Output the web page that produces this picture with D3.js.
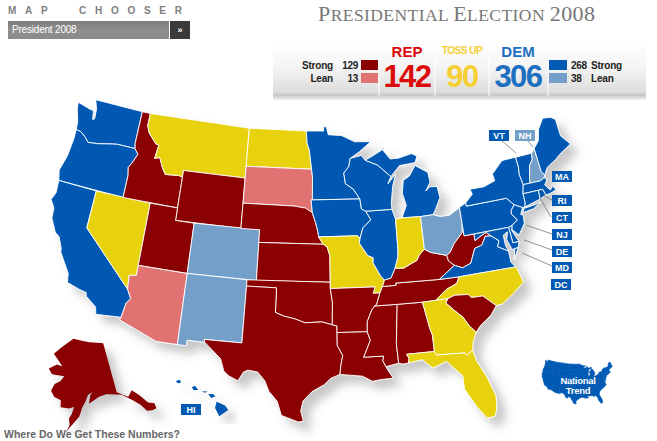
<!DOCTYPE html>
<html>
<head>
<meta charset="utf-8">
<script src="https://d3js.org/d3.v7.min.js"></script>
<style>
  html, body { margin: 0; padding: 0; background: #fff; }
  svg { display: block; font-family: "Liberation Sans", Arial, sans-serif; }
</style>
</head>
<body>
<svg id="map" width="657" height="441"></svg>
<script>
// who is where
var strongRep = ["AK","ID","UT","WY","NE","KS","OK","TX","AR","LA","MS","AL","TN","KY","WV","SC"];
var leanRep = ["AZ","SD"];
var tossUp = ["MT","ND","NV","MO","IN","NC","GA","FL"];
var leanDem = ["CO","NM","OH","NH"];
var strongDem = ["WA","OR","CA","MN","WI","IA","IL","MI","PA","NY","VT","ME","MA","RI","CT","NJ","DE","MD","VA","HI"];

// scoreboard numbers
var repLegend = [["Strong", 129], ["Lean", 13]];
var demLegend = [["Strong", 268], ["Lean", 38]];
var totalLabels = ["REP", "TOSS UP", "DEM"];
var totalValues = [142, 90, 306];

var calloutNames = ["VT","NH","MA","RI","CT","NJ","DE","MD","DC","HI"];

// state outlines in lon/lat, one list of rings per state
var shapes = {
  WA: [[[-124.7,48.4],[-123.2,48.15],[-122.7,48.1],[-122.5,47.4],[-122.3,47.5],[-122.4,48.3],[-122.8,49],[-117.03,49],[-117.04,46.4],[-116.92,45.99],[-118.98,46],[-119.6,45.92],[-121.2,45.65],[-122.3,45.55],[-122.8,45.9],[-123.4,46.2],[-124,46.27],[-124.1,46.9],[-124.6,47.9]]],
  OR: [[[-124,46.27],[-123.4,46.2],[-122.8,45.9],[-122.3,45.55],[-121.2,45.65],[-119.6,45.92],[-118.98,46],[-116.92,45.99],[-116.46,45.6],[-116.85,44.9],[-117.2,44.4],[-117.03,43.8],[-117.03,42],[-124.2,42],[-124.5,42.8],[-124.1,44],[-123.95,45.5]]],
  CA: [[[-124.2,42],[-120,42],[-120,39],[-114.63,35],[-114.14,34.3],[-114.5,33.9],[-114.72,32.72],[-117.12,32.53],[-117.3,33.1],[-118.4,33.75],[-118.5,34.03],[-119.2,34.15],[-120.5,34.45],[-120.65,35.15],[-121.9,36.6],[-122,36.95],[-122.5,37.75],[-123,38],[-123.75,39],[-123.85,39.8],[-124.4,40.4],[-124.1,41]]],
  NV: [[[-120,42],[-114.04,42],[-114.04,36.2],[-114.74,36.1],[-114.63,35],[-120,39]]],
  ID: [[[-117.03,49],[-116.05,49],[-116.05,48],[-115.7,47.45],[-114.7,46.7],[-114.33,46.65],[-114.5,45.55],[-113.95,45.7],[-113.45,44.95],[-113,44.45],[-111.5,44.55],[-111.05,44.48],[-111.05,42],[-117.03,42],[-117.03,43.8],[-117.2,44.4],[-116.85,44.9],[-116.46,45.6],[-116.92,45.99],[-117.04,46.4]]],
  MT: [[[-116.05,49],[-104.05,49],[-104.05,45],[-111.05,45],[-111.05,44.48],[-111.5,44.55],[-113,44.45],[-113.45,44.95],[-113.95,45.7],[-114.5,45.55],[-114.33,46.65],[-114.7,46.7],[-115.7,47.45],[-116.05,48]]],
  WY: [[[-111.05,45],[-104.05,45],[-104.05,41],[-111.05,41]]],
  UT: [[[-114.04,42],[-111.05,42],[-111.05,41],[-109.05,41],[-109.05,37],[-114.04,37]]],
  CO: [[[-109.05,41],[-102.05,41],[-102.05,37],[-109.05,37]]],
  AZ: [[[-114.04,37],[-109.05,37],[-109.05,31.33],[-111.07,31.33],[-114.81,32.5],[-114.72,32.72],[-114.5,33.9],[-114.14,34.3],[-114.63,35],[-114.74,36.1],[-114.04,36.2]]],
  NM: [[[-109.05,37],[-103,37],[-103.04,32],[-106.62,32],[-106.53,31.78],[-108.2,31.78],[-108.2,31.33],[-109.05,31.33]]],
  ND: [[[-104.05,49],[-97.23,49],[-97.1,48],[-96.85,47.5],[-96.56,45.94],[-104.05,45.94]]],
  SD: [[[-104.05,45.94],[-96.56,45.94],[-96.45,45.3],[-96.45,43.5],[-96.6,43.5],[-96.45,42.49],[-97.2,42.85],[-98.5,43],[-104.05,43]]],
  NE: [[[-104.05,43],[-98.5,43],[-97.2,42.85],[-96.45,42.49],[-96.1,41.7],[-95.85,41],[-95.77,40.58],[-95.31,40],[-102.05,40],[-102.05,41],[-104.05,41]]],
  KS: [[[-102.05,40],[-95.31,40],[-94.9,39.8],[-94.62,39.1],[-94.62,37],[-102.05,37]]],
  OK: [[[-103,37],[-94.62,37],[-94.62,36.5],[-94.43,35.4],[-94.48,33.64],[-95.5,33.88],[-97.1,33.8],[-98.1,34.1],[-99.2,34.3],[-100,34.56],[-100,36.5],[-103,36.5]]],
  TX: [[[-103,36.5],[-100,36.5],[-100,34.56],[-99.2,34.3],[-98.1,34.1],[-97.1,33.8],[-95.5,33.88],[-94.48,33.64],[-94.04,33.55],[-94.04,33.02],[-94.04,32],[-93.55,31.2],[-93.75,30.4],[-93.85,29.7],[-94.7,29.4],[-95.3,28.9],[-96.4,28.35],[-97.2,27.6],[-97.4,26.8],[-97.15,25.96],[-97.6,25.9],[-99.1,26.4],[-99.5,27.5],[-100.3,28.3],[-100.7,29.1],[-101.4,29.77],[-102.3,29.88],[-102.7,29.7],[-103.15,28.98],[-104,29.3],[-104.5,29.65],[-104.9,30.6],[-106.53,31.78],[-106.62,32],[-103.04,32]]],
  MN: [[[-97.23,49],[-95.15,49],[-95.15,49.38],[-94.8,49.3],[-94.6,48.7],[-93,48.6],[-91.5,48.07],[-89.6,48],[-91,47.25],[-92.1,46.75],[-92.3,46.1],[-92.9,45.6],[-92.75,44.75],[-91.9,44.3],[-91.22,43.5],[-96.45,43.5],[-96.45,45.3],[-96.56,45.94],[-96.85,47.5],[-97.1,48]]],
  IA: [[[-96.6,43.5],[-91.22,43.5],[-91.1,42.7],[-90.65,42.5],[-90.15,41.8],[-91.05,41.2],[-91.4,40.4],[-91.7,40.6],[-95.77,40.58],[-95.85,41],[-96.1,41.7],[-96.45,42.49]]],
  MO: [[[-95.77,40.58],[-91.7,40.6],[-91.4,40.4],[-91.5,40],[-90.7,39],[-90.15,38.8],[-90.2,38.4],[-89.5,37.3],[-89.15,37],[-89.4,36.5],[-89.7,36],[-90.37,36],[-90.15,36.5],[-94.62,36.5],[-94.62,37],[-94.62,39.1],[-94.9,39.8],[-95.31,40]]],
  AR: [[[-94.62,36.5],[-90.15,36.5],[-90.37,36],[-89.7,36],[-90.1,35.1],[-90.3,35],[-90.6,34.7],[-91.1,33.8],[-91.15,33],[-94.04,33.02],[-94.04,33.55],[-94.48,33.64],[-94.43,35.4]]],
  LA: [[[-94.04,33.02],[-91.15,33],[-90.9,32.3],[-91.6,31],[-89.73,31],[-89.85,30.65],[-89.6,30.15],[-89.4,29.8],[-89,29.2],[-90.1,29.15],[-90.9,29.05],[-91.8,29.5],[-92.3,29.55],[-93.85,29.7],[-93.75,30.4],[-93.55,31.2],[-94.04,32]]],
  MS: [[[-91.15,33],[-91.1,33.8],[-90.6,34.7],[-90.3,35],[-88.2,35],[-88.1,34.9],[-88.47,31.9],[-88.4,30.35],[-89.6,30.15],[-89.85,30.65],[-89.73,31],[-91.6,31],[-90.9,32.3]]],
  AL: [[[-88.2,35],[-85.6,34.98],[-85.18,32.87],[-85,32.3],[-85,31],[-87.6,31],[-87.4,30.65],[-87.5,30.3],[-88,30.25],[-88.4,30.35],[-88.47,31.9],[-88.1,34.9]]],
  TN: [[[-90.3,35],[-90.1,35.1],[-89.7,36],[-89.4,36.5],[-88.05,36.5],[-88.07,36.68],[-83.68,36.6],[-81.68,36.59],[-82,36.1],[-83.1,35.75],[-84.3,35],[-85.6,34.98],[-88.2,35]]],
  KY: [[[-89.4,36.5],[-89.15,37],[-88.5,37.1],[-88,37.85],[-87.1,37.8],[-86.3,38.1],[-85.7,38.3],[-85.4,38.7],[-84.8,39.1],[-84.2,38.8],[-83.6,38.65],[-82.6,38.4],[-82.5,37.95],[-81.97,37.54],[-83.68,36.6],[-88.07,36.68],[-88.05,36.5]]],
  IL: [[[-91.5,40],[-91.4,40.4],[-91.05,41.2],[-90.15,41.8],[-90.65,42.5],[-87.8,42.5],[-87.5,41.7],[-87.53,39.35],[-87.6,38.7],[-88,37.85],[-88.5,37.1],[-89.15,37],[-89.5,37.3],[-90.2,38.4],[-90.15,38.8],[-90.7,39]]],
  WI: [[[-92.1,46.75],[-90.8,46.95],[-90.4,46.55],[-89,46.1],[-87.6,45.1],[-88,44.55],[-87.05,45.25],[-87.5,44.3],[-87.8,43],[-87.8,42.5],[-90.65,42.5],[-91.1,42.7],[-91.22,43.5],[-91.9,44.3],[-92.75,44.75],[-92.9,45.6],[-92.3,46.1]]],
  MI: [[[-86.8,41.76],[-84.8,41.7],[-83.45,41.73],[-83.15,42.05],[-82.45,43],[-82.6,43.9],[-83.4,43.95],[-83.9,43.65],[-83.3,44.3],[-83.4,45.1],[-84.75,45.78],[-85.5,45],[-86.25,44.7],[-86.5,43.7],[-86.2,42.7]],
       [[-90.4,46.55],[-89,46.1],[-87.6,45.1],[-86.5,45.9],[-84.7,46],[-84.4,46.5],[-85,46.75],[-86.5,46.5],[-87.5,46.5],[-88.4,47.4],[-87.9,47.45],[-89.5,46.85]]],
  IN: [[[-87.5,41.7],[-86.8,41.76],[-84.8,41.7],[-84.8,39.1],[-85.4,38.7],[-85.7,38.3],[-86.3,38.1],[-87.1,37.8],[-88,37.85],[-87.6,38.7],[-87.53,39.35]]],
  OH: [[[-84.8,41.7],[-83.45,41.73],[-82.7,41.5],[-81.7,41.5],[-80.52,41.98],[-80.52,40.64],[-80.65,40],[-81.7,39.2],[-82.2,38.6],[-82.6,38.4],[-83.6,38.65],[-84.2,38.8],[-84.8,39.1]]],
  WV: [[[-82.6,38.4],[-82.2,38.6],[-81.7,39.2],[-80.65,40],[-80.52,40.64],[-80.52,39.72],[-79.48,39.72],[-79.48,39.2],[-78.9,39.45],[-78.2,39.68],[-77.72,39.32],[-78.35,39.4],[-78.87,38.76],[-79.65,38.6],[-80.3,37.5],[-81.2,37.25],[-81.97,37.54],[-82.5,37.95]]],
  VA: [[[-83.68,36.6],[-81.97,37.54],[-81.2,37.25],[-80.3,37.5],[-79.65,38.6],[-78.87,38.76],[-78.35,39.4],[-77.72,39.32],[-77.05,38.85],[-77.3,38.4],[-76.3,37.9],[-76.3,37],[-75.95,36.55],[-81.68,36.59]],
       [[-75.9,37.15],[-75.25,38.03],[-75.65,37.95]]],
  NC: [[[-84.3,35],[-83.1,35.75],[-82,36.1],[-81.68,36.59],[-75.87,36.55],[-75.5,35.25],[-76.5,34.65],[-77.9,33.9],[-78.55,33.86],[-79.67,34.8],[-80.8,34.82],[-81.05,35.1],[-82.4,35.2],[-83.1,35]]],
  SC: [[[-83.1,35],[-82.4,35.2],[-81.05,35.1],[-80.8,34.82],[-79.67,34.8],[-78.55,33.86],[-79.2,33.2],[-80.4,32.5],[-80.87,32.05],[-81.4,32.6],[-81.9,33.4],[-82.6,34],[-83.35,34.7]]],
  GA: [[[-85.6,34.98],[-84.3,35],[-83.1,35],[-83.35,34.7],[-82.6,34],[-81.9,33.4],[-81.4,32.6],[-80.87,32.05],[-81.3,31.3],[-81.45,30.7],[-82.05,30.36],[-82.2,30.57],[-84.86,30.7],[-85,31],[-85,32.3],[-85.18,32.87]]],
  FL: [[[-87.6,31],[-85,31],[-84.86,30.7],[-82.2,30.57],[-82.05,30.36],[-81.45,30.7],[-81.25,29.8],[-80.55,28.4],[-80.03,26.8],[-80.15,25.75],[-80.4,25.2],[-81.1,25.15],[-81.8,26.1],[-82.7,27.7],[-82.7,28.8],[-83.4,29.5],[-84,30.1],[-85.3,29.7],[-86.2,30.45],[-87.5,30.3],[-87.4,30.65]]],
  PA: [[[-80.52,41.98],[-79.76,42.27],[-79.76,42],[-75.35,42],[-74.7,41.36],[-75.13,40.98],[-75.2,40.7],[-74.72,40.15],[-75.4,39.8],[-75.79,39.72],[-80.52,39.72],[-80.52,40.64]]],
  NY: [[[-79.76,42.27],[-78.9,42.85],[-79.05,43.27],[-77.5,43.25],[-76.2,43.55],[-76.3,44.1],[-75,44.95],[-74.7,45],[-73.35,45],[-73.3,44.2],[-73.4,43.6],[-73.25,42.75],[-73.5,42.05],[-73.5,41.3],[-73.65,41],[-73.9,41],[-74.7,41.36],[-75.35,42],[-79.76,42]],
       [[-74,40.6],[-73.75,40.9],[-72.6,40.98],[-71.9,41.07],[-72.8,40.7]]],
  VT: [[[-73.35,45],[-71.5,45],[-71.6,44.5],[-72.05,44.1],[-72.45,43],[-72.46,42.73],[-73.25,42.75],[-73.4,43.6],[-73.3,44.2]]],
  NH: [[[-71.5,45],[-71.08,45.3],[-70.98,43.4],[-70.7,43.07],[-70.85,42.87],[-71.3,42.7],[-72.46,42.73],[-72.45,43],[-72.05,44.1],[-71.6,44.5]]],
  ME: [[[-71.08,45.3],[-70.4,45.8],[-70,46.7],[-69.2,47.45],[-68.3,47.35],[-67.8,47.07],[-67.8,45.7],[-67,44.85],[-68.5,44.3],[-69.1,44],[-70.2,43.6],[-70.7,43.07],[-70.98,43.4]]],
  MA: [[[-73.5,42.05],[-73.25,42.75],[-72.46,42.73],[-71.3,42.7],[-70.85,42.87],[-70.6,42.65],[-71,42.3],[-70.55,41.8],[-70.2,42.05],[-69.95,41.7],[-70.6,41.55],[-71.15,41.5],[-71.35,42.02],[-71.8,42.02]]],
  CT: [[[-73.5,42.05],[-71.8,42.02],[-71.85,41.32],[-73.65,41],[-73.5,41.3]]],
  RI: [[[-71.8,42.02],[-71.35,42.02],[-71.15,41.5],[-71.85,41.32]]],
  NJ: [[[-74.7,41.36],[-73.9,41],[-74.25,40.5],[-74,40.4],[-74.1,39.75],[-74.9,38.95],[-75.5,39.5],[-75.4,39.8],[-74.72,40.15],[-75.2,40.7],[-75.13,40.98]]],
  DE: [[[-75.79,39.72],[-75.4,39.8],[-75.55,39.45],[-75.05,38.45],[-75.7,38.46]]],
  MD: [[[-79.48,39.72],[-75.79,39.72],[-75.7,38.46],[-75.05,38.45],[-75.25,38.03],[-75.9,37.95],[-76.25,38.8],[-76,39.4],[-76.5,39.2],[-76.5,38.4],[-76.3,37.9],[-77.3,38.4],[-77.05,38.85],[-77.72,39.32],[-78.2,39.68],[-78.9,39.45],[-79.48,39.2]]]
};

var alaskaRing = [[-141,69.65],[-141,60.3],[-137.5,58.9],[-135.5,59.8],[-133.5,58.4],[-131.8,56.6],[-130,56],[-130.1,55],[-131.5,55],[-133.2,55.3],[-134.5,56.8],[-136.5,58.1],[-139.5,59.6],[-142,60],[-145,60.4],[-147.8,60.2],[-149.5,59.8],[-151.8,59.2],[-151,60.7],[-150,61.2],[-151.8,60.8],[-153,59.6],[-154.3,58.6],[-155.5,57],[-157.5,55.8],[-160,54.2],[-158.8,55.4],[-159,56.7],[-158,57.6],[-157.2,58.8],[-159,58.5],[-162,58.7],[-162,60],[-164.5,60.5],[-166,61.6],[-164.8,62.9],[-162.5,63.5],[-161,64.4],[-163,64.5],[-166.3,64.6],[-168,65.6],[-164.5,66.5],[-162,66.2],[-163.7,67.1],[-166.5,68.4],[-163,69.7],[-160,70.5],[-156.5,71.35],[-152,70.85],[-148,70.4],[-144,70]];
var hawaiiRings = [
  [[-155.9,20.25],[-155.1,19.9],[-154.8,19.5],[-155.65,18.95],[-156.05,19.7]],
  [[-156.7,20.95],[-156.25,20.95],[-156,20.75],[-156.4,20.58]],
  [[-158.25,21.55],[-157.95,21.7],[-157.65,21.3],[-158.1,21.3]],
  [[-159.8,22.1],[-159.4,22.23],[-159.3,21.95],[-159.6,21.9]],
  [[-157.3,21.2],[-156.75,21.17],[-157,21.07]]
];

var partyColors = { strongRep: "#8b0000", leanRep: "#e07272", toss: "#e8d20f", leanDem: "#739fc8", strongDem: "#0059b3" };

function colorOf(id) {
  if (strongRep.indexOf(id) >= 0) return partyColors.strongRep;
  if (leanRep.indexOf(id) >= 0) return partyColors.leanRep;
  if (tossUp.indexOf(id) >= 0) return partyColors.toss;
  if (leanDem.indexOf(id) >= 0) return partyColors.leanDem;
  return partyColors.strongDem;
}

// d3.geo wants rings wound the right way round, otherwise it fills the rest of the globe
function toFeature(id, rings) {
  var coords = rings.map(function(r) {
    var ring = r.concat([r[0]]);
    if (d3.geoArea({type: "Polygon", coordinates: [ring]}) > 2 * Math.PI) ring.reverse();
    return [ring];
  });
  return {type: "Feature", id: id, geometry: {type: "MultiPolygon", coordinates: coords}};
}

var features = Object.keys(shapes).map(function(k) { return toFeature(k, shapes[k]); });

var svg = d3.select("#map");
var defs = svg.append("defs");

var shadow = defs.append("filter").attr("id", "shadow")
  .attr("x", "-10%").attr("y", "-10%").attr("width", "130%").attr("height", "130%");
shadow.append("feDropShadow").attr("dx", 8).attr("dy", 8).attr("stdDeviation", 5)
  .attr("flood-color", "#555").attr("flood-opacity", 0.33);

function gradient(id, stops) {
  var g = defs.append("linearGradient").attr("id", id).attr("x1", 0).attr("x2", 0).attr("y1", 0).attr("y2", 1);
  stops.forEach(function(s) { g.append("stop").attr("offset", s[0]).attr("stop-color", s[1]); });
}
gradient("panelFill", [[0, "#ffffff"], [0.45, "#f4f4f4"], [0.88, "#dcdcdc"], [0.91, "#c4c4c4"], [1, "#f2f2f2"]]);
gradient("pickFill", [[0, "#7d7d7d"], [0.5, "#8f8f8f"], [1, "#8a8a8a"]]);

// main map
var projection = d3.geoConicEqualArea().parallels([29.5, 45.5]).rotate([96, 0]).center([0, 37.5])
  .scale(720).translate([316.5, 276]);
var path = d3.geoPath(projection);

var lower48 = svg.append("g").attr("filter", "url(#shadow)");
lower48.selectAll("path").data(features).enter().append("path")
  .attr("d", path)
  .attr("fill", function(d) { return colorOf(d.id); })
  .attr("stroke", "#fff").attr("stroke-width", 0.9).attr("stroke-linejoin", "round");

// Alaska and Hawaii have their own projections
var akProjection = d3.geoConicEqualArea().parallels([55, 65]).rotate([159, 0]).center([0, 63])
  .scale(312).translate([69, 384]);
svg.append("path").datum(toFeature("AK", [alaskaRing]))
  .attr("d", d3.geoPath(akProjection))
  .attr("fill", colorOf("AK")).attr("filter", "url(#shadow)");

var hiProjection = d3.geoConicEqualArea().parallels([8, 18]).rotate([157, 0]).center([0, 20.5])
  .scale(640).translate([205, 399]);
svg.append("path").datum(toFeature("HI", hawaiiRings))
  .attr("d", d3.geoPath(hiProjection))
  .attr("fill", colorOf("HI")).attr("filter", "url(#shadow)");

// national trend inset, same outlines in one colour
var trendProjection = d3.geoConicEqualArea().parallels([29.5, 45.5]).rotate([96, 0]).center([0, 37.5])
  .scale(98).translate([578, 384]);
var trend = svg.append("g");
trend.selectAll("path").data(features).enter().append("path")
  .attr("d", d3.geoPath(trendProjection))
  .attr("fill", partyColors.strongDem).attr("stroke", partyColors.strongDem).attr("stroke-width", 0.6);
trend.selectAll("text").data(["National", "Trend"]).enter().append("text")
  .attr("x", 578).attr("y", function(d, i) { return 384 + i * 10; })
  .attr("text-anchor", "middle").attr("fill", "#fff")
  .attr("font-size", 9.5).attr("font-weight", "bold").attr("letter-spacing", -0.3)
  .text(function(d) { return d; });

// small-state callouts
var calloutBoxes = { VT: [489,130], NH: [515,130], MA: [552,171], RI: [552,195], CT: [552,212], NJ: [552,229], DE: [552,246], MD: [552,262], DC: [551,279], HI: [181,404] };
var calloutLines = { VT: [502,141,516,153], NH: [528,141,533,147], RI: [552,200,543,195], CT: [551,217,540,198], NJ: [552,234,526,225], DE: [552,250,524,240], MD: [552,266,522,253] };

svg.append("g").selectAll("line").data(Object.keys(calloutLines)).enter().append("line")
  .attr("x1", function(d) { return calloutLines[d][0]; })
  .attr("y1", function(d) { return calloutLines[d][1]; })
  .attr("x2", function(d) { return calloutLines[d][2]; })
  .attr("y2", function(d) { return calloutLines[d][3]; })
  .attr("stroke", "#777").attr("stroke-width", 0.8);

var callouts = svg.append("g").selectAll("g").data(calloutNames).enter().append("g")
  .attr("transform", function(d) { return "translate(" + calloutBoxes[d] + ")"; });
callouts.append("rect").attr("width", 20).attr("height", 11)
  .attr("fill", function(d) { return d == "NH" ? partyColors.leanDem : partyColors.strongDem; });
callouts.append("text").attr("x", 10).attr("y", 9)
  .attr("text-anchor", "middle").attr("fill", "#fff").attr("font-size", 9).attr("font-weight", "bold")
  .text(function(d) { return d; });

// chooser
svg.append("text").attr("x", 8).attr("y", 14).attr("fill", "#808080").attr("font-size", 10).attr("font-weight", "bold")
  .attr("letter-spacing", 8.7).style("white-space", "pre").text("MAP  CHOOSER");
svg.append("rect").attr("x", 8).attr("y", 21).attr("width", 161).attr("height", 18).attr("fill", "url(#pickFill)");
svg.append("rect").attr("x", 170).attr("y", 21).attr("width", 20).attr("height", 18).attr("fill", "#3a3a3a");
svg.append("text").attr("x", 12).attr("y", 33).attr("fill", "#fff").attr("font-size", 10).attr("letter-spacing", -0.2).text("President 2008");
svg.append("text").attr("x", 180).attr("y", 33).attr("text-anchor", "middle").attr("fill", "#fff").attr("font-size", 9).attr("font-weight", "bold").text("»");

// title
var title = svg.append("text").attr("x", 318).attr("y", 21).attr("fill", "#777")
  .attr("font-family", "Liberation Serif, serif").attr("font-size", 22).attr("textLength", 277);
title.append("tspan").text("P");
title.append("tspan").attr("font-size", 17.5).text("RESIDENTIAL ");
title.append("tspan").text("E");
title.append("tspan").attr("font-size", 17.5).text("LECTION ");
title.append("tspan").text("2008");

// scoreboard
svg.append("rect").attr("x", 273).attr("y", 42).attr("width", 373).attr("height", 58).attr("fill", "url(#panelFill)");
[379, 435, 489, 548].forEach(function(x) {
  svg.append("line").attr("x1", x).attr("x2", x).attr("y1", 44).attr("y2", 96).attr("stroke", "#fff");
});

var totalX = [407, 462, 518];
var totalColors = ["#dc0a0a", "#f5cf35", "#1e6fc0"];
var totals = svg.append("g").selectAll("g").data(totalLabels).enter().append("g");
totals.append("text").attr("x", function(d, i) { return totalX[i]; })
  .attr("y", function(d, i) { return i == 1 ? 54 : 57; })
  .attr("text-anchor", "middle").attr("fill", function(d, i) { return totalColors[i]; })
  .attr("font-weight", "bold").attr("font-size", function(d, i) { return i == 1 ? 10 : 15; })
  .attr("letter-spacing", function(d, i) { return i == 1 ? -0.5 : 0; })
  .text(function(d) { return d; });
totals.append("text").attr("x", function(d, i) { return totalX[i]; }).attr("y", 87)
  .attr("text-anchor", "middle").attr("fill", function(d, i) { return totalColors[i]; })
  .attr("font-weight", "bold").attr("font-size", 31).attr("letter-spacing", -1.5)
  .text(function(d, i) { return totalValues[i]; });

var legendColors = { rep: [partyColors.strongRep, partyColors.leanRep], dem: [partyColors.strongDem, partyColors.leanDem] };
repLegend.forEach(function(d, i) {
  var y = 60 + i * 13;
  svg.append("rect").attr("x", 361).attr("y", y).attr("width", 17).attr("height", 10).attr("fill", legendColors.rep[i]);
  svg.append("text").attr("x", 358).attr("y", y + 9).attr("text-anchor", "end").attr("font-size", 10).attr("font-weight", "bold").attr("letter-spacing", -0.3).attr("fill", "#222").text(d[1]);
  svg.append("text").attr("x", 333).attr("y", y + 9).attr("text-anchor", "end").attr("font-size", 10).attr("font-weight", "bold").attr("letter-spacing", -0.2).attr("fill", "#222").text(d[0]);
});
demLegend.forEach(function(d, i) {
  var y = 60 + i * 13;
  svg.append("rect").attr("x", 549).attr("y", y).attr("width", 18).attr("height", 10).attr("fill", legendColors.dem[i]);
  svg.append("text").attr("x", 571).attr("y", y + 9).attr("font-size", 10).attr("font-weight", "bold").attr("letter-spacing", -0.3).attr("fill", "#222").text(d[1]);
  svg.append("text").attr("x", 591).attr("y", y + 9).attr("font-size", 10).attr("font-weight", "bold").attr("letter-spacing", -0.2).attr("fill", "#222").text(d[0]);
});

// footer link
svg.append("text").attr("x", 4).attr("y", 438).attr("fill", "#666").attr("font-size", 10.5).attr("font-weight", "bold")
  .text("Where Do We Get These Numbers?");
</script>
</body>
</html>
